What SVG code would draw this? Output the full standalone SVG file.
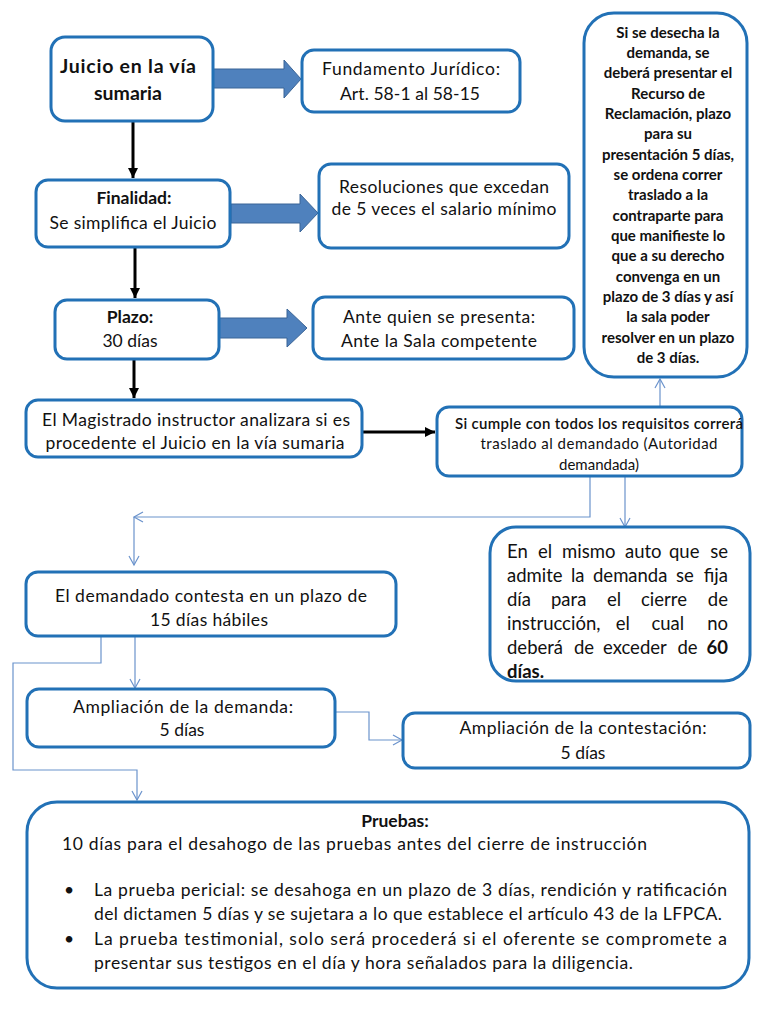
<svg xmlns="http://www.w3.org/2000/svg" width="768" height="1024" viewBox="0 0 768 1024">
<defs>
<style>
.box{fill:#fff;stroke:#2271b6;stroke-width:3}
.blk{fill:#4f81bd;stroke:#3b6597;stroke-width:1}
.t{font-family:Lato,"Liberation Sans",sans-serif;font-size:17.5px;fill:#111}
.c{text-anchor:middle}
.b{font-weight:bold}
.thin{fill:none;stroke:#6b93cc;stroke-width:1.2}
.bk{fill:none;stroke:#000;stroke-width:3}
</style>
<marker id="open" markerWidth="12" markerHeight="12" refX="10" refY="6" orient="auto" markerUnits="userSpaceOnUse">
<path d="M1,1 L10,6 L1,11" fill="none" stroke="#6b93cc" stroke-width="1.2"/>
</marker>
<marker id="solid" markerWidth="12" markerHeight="12" refX="10" refY="6" orient="auto" markerUnits="userSpaceOnUse">
<path d="M0,1 L10,6 L0,11 Z" fill="#000"/>
</marker>
</defs>
<rect width="768" height="1024" fill="#fff"/>

<g id="connectors">
<polygon class="blk" points="213,69 284,69 284,60 301,79 284,98 284,88 213,88"/>
<polygon class="blk" points="231,204 300,204 300,194 318,213 300,232 300,223 231,223"/>
<polygon class="blk" points="219,318 287,318 287,309 307,328 287,347 287,338 219,338"/>
<line class="bk" x1="133" y1="122" x2="133" y2="178" marker-end="url(#solid)"/>
<line class="bk" x1="135" y1="248" x2="135" y2="298" marker-end="url(#solid)"/>
<line class="bk" x1="134" y1="360" x2="134" y2="398" marker-end="url(#solid)"/>
<line class="bk" x1="363" y1="432" x2="435" y2="432" marker-end="url(#solid)"/>
<path class="thin" d="M660,407 V379" marker-end="url(#open)"/>
<path class="thin" d="M590,477 V517 H134" marker-end="url(#open)"/>
<path class="thin" d="M134,517 V565" marker-end="url(#open)"/>
<path class="thin" d="M625,477 V527" marker-end="url(#open)"/>
<path class="thin" d="M101,637 V663 H13 V770 H137 V800" marker-end="url(#open)"/>
<path class="thin" d="M135,637 V688" marker-end="url(#open)"/>
<path class="thin" d="M335,712 H369 V740 H402" marker-end="url(#open)"/>
</g>

<g id="n-juicio">
<rect class="box" x="51" y="37" width="162" height="84" rx="14"/>
<text class="t c b" x="128" y="73" style="font-size:19.5px" textLength="136">Juicio en la vía</text>
<text class="t c b" x="128" y="100" style="font-size:19.5px">sumaria</text>
</g>

<g id="n-fundamento">
<rect class="box" x="302" y="50" width="218" height="62" rx="12"/>
<text class="t c" x="411" y="75" textLength="178">Fundamento Jurídico:</text>
<text class="t c" x="410" y="100" textLength="140">Art. 58-1 al 58-15</text>
</g>

<g id="n-finalidad">
<rect class="box" x="36" y="180" width="194" height="67" rx="12"/>
<text class="t c b" x="134" y="204">Finalidad:</text>
<text class="t c" x="133" y="229" textLength="167">Se simplifica el Juicio</text>
</g>

<g id="n-resoluciones">
<rect class="box" x="319" y="164" width="250" height="84" rx="12"/>
<text class="t c" x="444" y="193" textLength="210">Resoluciones que excedan</text>
<text class="t c" x="444" y="215" textLength="225">de 5 veces el salario mínimo</text>
</g>

<g id="n-plazo">
<rect class="box" x="55" y="300" width="164" height="59" rx="12"/>
<text class="t c b" x="130" y="323">Plazo:</text>
<text class="t c" x="130" y="347">30 días</text>
</g>

<g id="n-ante">
<rect class="box" x="313" y="297" width="261" height="62" rx="12"/>
<text class="t c" x="439" y="323" textLength="192">Ante quien se presenta:</text>
<text class="t c" x="439" y="347" textLength="196">Ante la Sala competente</text>
</g>

<g id="n-magistrado">
<rect class="box" x="26" y="400" width="336" height="57" rx="12"/>
<text class="t c" x="196" y="426" textLength="308">El Magistrado instructor analizara si es</text>
<text class="t c" x="195" y="449" textLength="299">procedente el Juicio en la vía sumaria</text>
</g>

<g id="n-traslado">
<rect class="box" x="437" y="407" width="305" height="69" rx="12"/>
<text class="t" x="455" y="429" style="font-size:15px;font-weight:600" textLength="288">Si cumple con todos los requisitos correrá</text>
<text class="t c" x="599" y="449" style="font-size:15px" textLength="237">traslado al demandado (Autoridad</text>
<text class="t c" x="599" y="470" style="font-size:15px">demandada)</text>
</g>

<g id="n-recurso">
<rect class="box" x="584" y="13" width="163" height="364" rx="30"/>
<g class="t c b" style="font-size:15px">
<text x="668" y="37.5">Si se desecha la</text>
<text x="668" y="57.9">demanda, se</text>
<text x="668" y="78.2">deberá presentar el</text>
<text x="668" y="98.6">Recurso de</text>
<text x="668" y="118.9">Reclamación, plazo</text>
<text x="668" y="139.3">para su</text>
<text x="668" y="159.6">presentación 5 días,</text>
<text x="668" y="180">se ordena correr</text>
<text x="668" y="200.3">traslado a la</text>
<text x="668" y="220.7">contraparte para</text>
<text x="668" y="241">que manifieste lo</text>
<text x="668" y="261.4">que a su derecho</text>
<text x="668" y="281.7">convenga en un</text>
<text x="668" y="302.1">plazo de 3 días y así</text>
<text x="668" y="322.4">la sala poder</text>
<text x="668" y="342.8">resolver en un plazo</text>
<text x="668" y="363.1">de 3 días.</text>
</g>
</g>

<g id="n-cierre">
<rect class="box" x="490" y="527" width="260" height="154" rx="26"/>
<g class="t" style="font-size:18.5px">
<text y="558"><tspan x="507">En</tspan><tspan x="538">el</tspan><tspan x="562">mismo</tspan><tspan x="625">auto</tspan><tspan x="669">que</tspan><tspan x="728" text-anchor="end">se</tspan></text>
<text y="582"><tspan x="507">admite</tspan><tspan x="571">la</tspan><tspan x="593">demanda</tspan><tspan x="676">se</tspan><tspan x="728" text-anchor="end">fija</tspan></text>
<text y="606"><tspan x="507">día</tspan><tspan x="551">para</tspan><tspan x="607">el</tspan><tspan x="641">cierre</tspan><tspan x="728" text-anchor="end">de</tspan></text>
<text y="630"><tspan x="507">instrucción,</tspan><tspan x="615.7">el</tspan><tspan x="651.4">cual</tspan><tspan x="728" text-anchor="end">no</tspan></text>
<text y="654"><tspan x="507">deberá</tspan><tspan x="574">de</tspan><tspan x="603">exceder</tspan><tspan x="677.5">de</tspan><tspan x="728" text-anchor="end" font-weight="bold">60</tspan></text>
<text y="678" font-weight="bold" x="507">días.</text>
</g>
</g>

<g id="n-contesta">
<rect class="box" x="26" y="572" width="370" height="64" rx="12"/>
<text class="t c" x="211" y="602" textLength="312">El demandado contesta en un plazo de</text>
<text class="t c" x="209" y="626" textLength="118">15 días hábiles</text>
</g>

<g id="n-ampdemanda">
<rect class="box" x="27" y="689" width="308" height="58" rx="12"/>
<text class="t c" x="183" y="713" textLength="220">Ampliación de la demanda:</text>
<text class="t c" x="182" y="736">5 días</text>
</g>

<g id="n-ampcontest">
<rect class="box" x="403" y="713" width="347" height="55" rx="12"/>
<text class="t c" x="583" y="734" textLength="247">Ampliación de la contestación:</text>
<text class="t c" x="583" y="759">5 días</text>
</g>

<g id="n-pruebas">
<rect class="box" x="27" y="802" width="722" height="186" rx="30"/>
<text class="t c b" x="395" y="827">Pruebas:</text>
<text class="t" x="62" y="850" textLength="585">10 días para el desahogo de las pruebas antes del cierre de instrucción</text>
<text class="t" x="64" y="896">•</text>
<text class="t" x="94" y="896" textLength="633">La prueba pericial: se desahoga en un plazo de 3 días, rendición y ratificación</text>
<text class="t" x="94" y="920" textLength="628">del dictamen 5 días y se sujetara a lo que establece el artículo 43 de la LFPCA.</text>
<text class="t" x="64" y="945">•</text>
<text class="t" x="94" y="945" textLength="633">La prueba testimonial, solo será procederá si el oferente se compromete a</text>
<text class="t" x="94" y="969" textLength="539">presentar sus testigos en el día y hora señalados para la diligencia.</text>
</g>
</svg>
